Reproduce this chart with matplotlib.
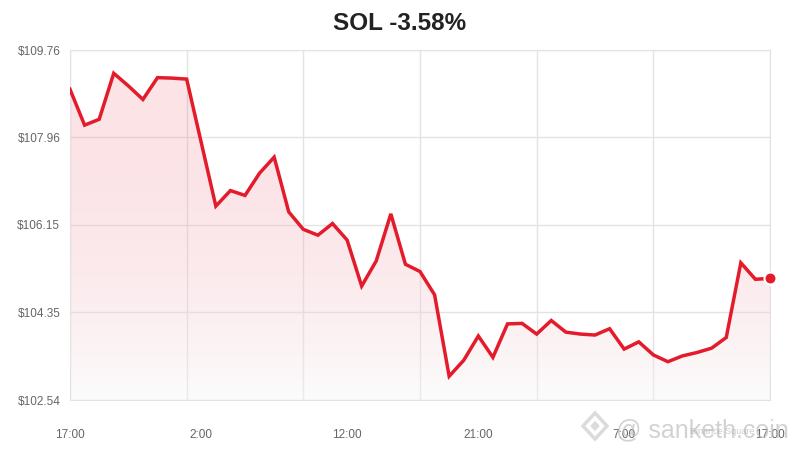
import numpy as np
import matplotlib.pyplot as plt
from matplotlib.colors import LinearSegmentedColormap
from matplotlib.patches import Polygon

plt.rcParams['font.family'] = ['Liberation Sans', 'DejaVu Sans']

# SOL price, 30-min steps over 24h
prices = [108.95, 108.21, 108.33, 109.28, 109.02, 108.74, 109.19, 109.18, 109.16, 107.85,
          106.54, 106.86, 106.76, 107.22, 107.55, 106.42, 106.06, 105.94, 106.18, 105.84,
          104.89, 105.41, 106.38, 105.34, 105.19, 104.71, 103.03, 103.36, 103.86, 103.42,
          104.11, 104.12, 103.90, 104.18, 103.94, 103.90, 103.88, 104.01, 103.59, 103.74,
          103.47, 103.33, 103.45, 103.52, 103.61, 103.83, 105.37, 105.03, 105.05]
y_ticks = [102.54, 104.35, 106.15, 107.96, 109.76]
x_tick_pos = [0, 9, 19, 28, 38, 48]
x_tick_labels = ["17:00", "2:00", "12:00", "21:00", "7:00", "17:00"]
title = "SOL -3.58%"

red = "#e31b2b"
x = np.arange(len(prices))
ymin, ymax = y_ticks[0], y_ticks[-1]

fig = plt.figure(figsize=(8, 4.5), dpi=100)
ax = fig.add_axes([70 / 800, 50 / 450, 700 / 800, 350 / 450])
ax.set_xlim(0, len(prices) - 1)
ax.set_ylim(ymin, ymax)

# grid
for gx in range(0, len(prices), 8):
    ax.axvline(gx, color="#e3e3e3", lw=1, zorder=0)
for gy in y_ticks:
    ax.axhline(gy, color="#e3e3e3", lw=1, zorder=0)

# gradient fill under line
poly = ax.fill_between(x, prices, ymin, color="none", lw=0)
cmap = LinearSegmentedColormap.from_list("fade", [(0.97, 0.97, 0.97, 0.4), (0.93, 0.35, 0.43, 0.16)])
grad = np.linspace(0, 1, 256).reshape(-1, 1)
img = ax.imshow(grad, cmap=cmap, aspect="auto", origin="lower",
                extent=[0, len(prices) - 1, ymin, ymax], zorder=1)
img.set_clip_path(poly.get_paths()[0], transform=ax.transData)

ax.plot(x, prices, color=red, lw=2.5, zorder=3, solid_joinstyle="miter")
ax.scatter([x[-1]], [prices[-1]], s=75, color=red, edgecolor="white", linewidth=1.5, zorder=4, clip_on=False)

ax.set_yticks(y_ticks)
ax.set_yticklabels([f"${v:.2f}" for v in y_ticks])
ax.set_xticks(x_tick_pos)
ax.set_xticklabels(x_tick_labels)
ax.tick_params(axis="both", length=0, labelsize=8.5, labelcolor="#666666")
ax.tick_params(axis="y", pad=7)
ax.tick_params(axis="x", pad=21)
for s in ax.spines.values():
    s.set_color("#e3e3e3")

fig.text(0.5, 0.948, title, ha="center", va="center", fontsize=17.5, fontweight="bold", color="#222222")

# watermark: diamond logo + handle
cx, cy = 595 / 800, 1 - 426 / 450
dx, dy = 12 / 800, 13 / 450
fig.patches.append(Polygon([(cx - dx, cy), (cx, cy + dy), (cx + dx, cy), (cx, cy - dy)], closed=True,
                           fill=False, ec="#cccccc", lw=2.5, alpha=0.7, transform=fig.transFigure))
fig.patches.append(Polygon([(cx - dx / 2.5, cy), (cx, cy + dy / 2.5), (cx + dx / 2.5, cy), (cx, cy - dy / 2.5)],
                           closed=True, fill=True, fc="#cccccc", ec="none", alpha=0.7, transform=fig.transFigure))
fig.text(616 / 800, 1 - 437 / 450, "@ sanketh.coin", fontsize=18, color="#bbbbbb", alpha=0.65,
         va="baseline", ha="left")
fig.text(690 / 800, 1 - 432 / 450, "Binance Square", fontsize=6.5, color="#aaaaaa", alpha=0.6, va="center")

fig.savefig("out.png", dpi=100)
